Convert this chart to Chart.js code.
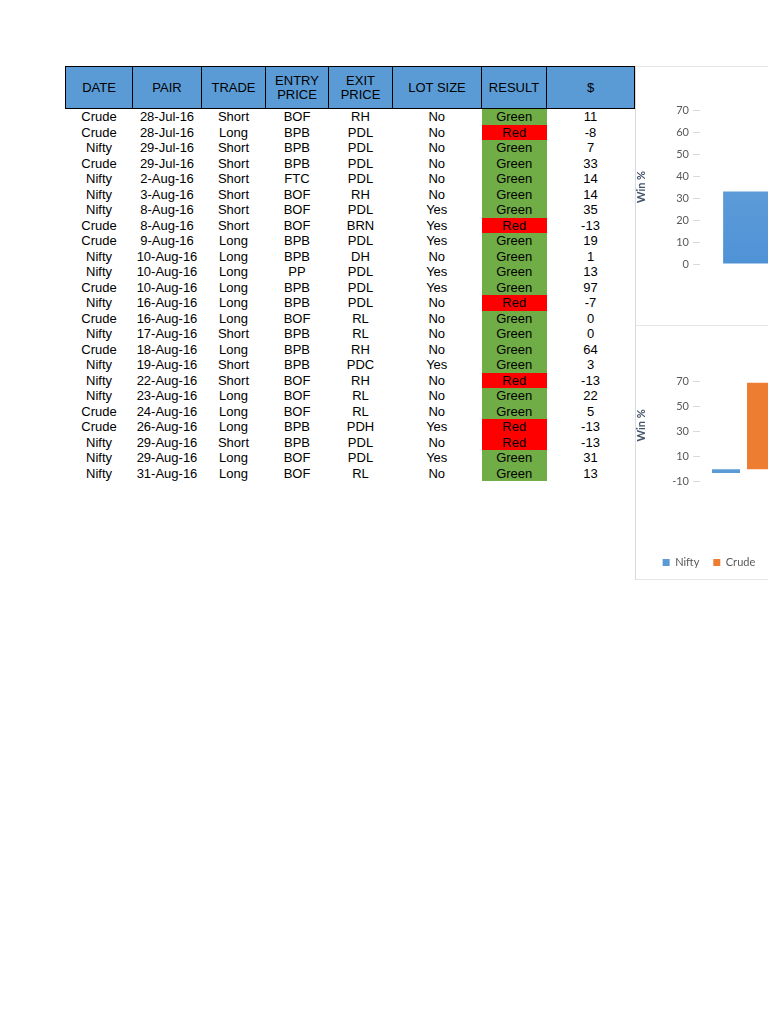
<!DOCTYPE html>
<html><head><meta charset="utf-8">
<script src="https://cdn.jsdelivr.net/npm/chart.js@4"></script>
<style>
html,body{margin:0;padding:0;width:768px;height:1024px;overflow:hidden;background:#fff;font-family:"Liberation Sans",Arial,sans-serif;}
#tbl{position:absolute;left:65px;top:66px;border-collapse:collapse;font-size:13px;}
#tbl th{background:#5b9bd5;border:1px solid #000;font-weight:normal;height:41px;padding:0;line-height:14px;color:#000;}
#tbl td{height:15.5px;padding:0;text-align:center;line-height:15px;}
.g{background:#70ad47;} .r{background:#ff0000;}
.panel{position:absolute;left:635px;width:200px;background:#fff;border-left:1px solid #d9d9d9;border-top:1px solid #e6e6e6;}
.cv{position:absolute;}
</style></head><body>
<table id="tbl"><thead><tr>
<th style="width:66px">DATE</th><th style="width:68px">PAIR</th><th style="width:63px">TRADE</th><th style="width:62px">ENTRY<br>PRICE</th><th style="width:63px">EXIT<br>PRICE</th><th style="width:88px">LOT SIZE</th><th style="width:64px">RESULT</th><th style="width:87px">$</th>
</tr></thead><tbody id="tb"></tbody></table>
<div class="panel" style="top:66px;height:258px;"></div>
<div class="panel" style="top:325px;height:253px;border-bottom:1px solid #e6e6e6;"></div>
<div class="cv" style="left:635px;top:66px;width:250px;height:258px;"><canvas id="c1"></canvas></div>
<div class="cv" style="left:635px;top:325px;width:187px;height:253px;"><canvas id="c2"></canvas></div>
<script>
const pairs=["Crude","Crude","Nifty","Crude","Nifty","Nifty","Nifty","Crude","Crude","Nifty","Nifty","Crude","Nifty","Crude","Nifty","Crude","Nifty","Nifty","Nifty","Crude","Crude","Nifty","Nifty","Nifty"];
const dates=["28-Jul-16","28-Jul-16","29-Jul-16","29-Jul-16","2-Aug-16","3-Aug-16","8-Aug-16","8-Aug-16","9-Aug-16","10-Aug-16","10-Aug-16","10-Aug-16","16-Aug-16","16-Aug-16","17-Aug-16","18-Aug-16","19-Aug-16","22-Aug-16","23-Aug-16","24-Aug-16","26-Aug-16","29-Aug-16","29-Aug-16","31-Aug-16"];
const trades=["Short","Long","Short","Short","Short","Short","Short","Short","Long","Long","Long","Long","Long","Long","Short","Long","Short","Short","Long","Long","Long","Short","Long","Long"];
const entries=["BOF","BPB","BPB","BPB","FTC","BOF","BOF","BOF","BPB","BPB","PP","BPB","BPB","BOF","BPB","BPB","BPB","BOF","BOF","BOF","BPB","BPB","BOF","BOF"];
const exits=["RH","PDL","PDL","PDL","PDL","RH","PDL","BRN","PDL","DH","PDL","PDL","PDL","RL","RL","RH","PDC","RH","RL","RL","PDH","PDL","PDL","RL"];
const lots=["No","No","No","No","No","No","Yes","Yes","Yes","No","Yes","Yes","No","No","No","No","Yes","No","No","No","Yes","No","Yes","No"];
const results=["Green","Red","Green","Green","Green","Green","Green","Red","Green","Green","Green","Green","Red","Green","Green","Green","Green","Red","Green","Green","Red","Red","Green","Green"];
const dollars=[11,-8,7,33,14,14,35,-13,19,1,13,97,-7,0,0,64,3,-13,22,5,-13,-13,31,13];
// charts
const topLabels=["Win %"];
const topValues=[33];
const botLabels=[""];
const botSeries=["Nifty","Crude","All"];
const botValues=[[-3],[69],[null]];
const botColors=["#5b9bd5","#ed7d31","#a5a5a5"];

const tb=document.getElementById('tb');
for(let i=0;i<pairs.length;i++){
  const tr=document.createElement('tr');
  [pairs[i],dates[i],trades[i],entries[i],exits[i],lots[i],results[i],dollars[i]].forEach((v,j)=>{
    const td=document.createElement('td');td.textContent=v;
    if(j===6){td.className=results[i]==='Green'?'g':'r';td.style.borderLeft='1px solid #fff';}
    tr.appendChild(td);});
  tb.appendChild(tr);
}
const tickFont={family:"Lato, 'Liberation Sans', sans-serif",size:11};
function yScale(min,max){return{min:min,max:max,ticks:{stepSize:10,color:'#595959',font:tickFont,padding:4},
  grid:{drawOnChartArea:false,drawTicks:true,tickLength:7,color:'#d9d9d9'},border:{display:false},
  title:{display:true,text:'Win %',color:'#44546a',font:{family:"Lato, sans-serif",size:11,weight:'bold'},padding:0},
  afterFit:s=>{s.width=65;}};}
const grad=(ctx,c1,c2)=>{const a=ctx.chart.chartArea;if(!a)return c1;const g=ctx.chart.ctx.createLinearGradient(0,a.top,0,a.bottom);g.addColorStop(0,c1);g.addColorStop(1,c2);return g;};
new Chart(document.getElementById('c1'),{type:'bar',
  data:{labels:topLabels,datasets:[{data:topValues,backgroundColor:c=>grad(c,'#6fa5db','#4e92d6'),categoryPercentage:1,barPercentage:0.75}]},
  options:{responsive:true,maintainAspectRatio:false,animation:false,layout:{padding:{top:44,bottom:60,left:0,right:0}},
    plugins:{legend:{display:false},tooltip:{enabled:false}},
    scales:{x:{display:false},y:yScale(0,70)}}});
new Chart(document.getElementById('c2'),{type:'bar',
  data:{labels:botLabels,datasets:botSeries.map((n,i)=>({label:n,data:botValues[i],backgroundColor:botColors[i],categoryPercentage:0.86,barPercentage:0.8}))},
  options:{responsive:true,maintainAspectRatio:false,animation:false,layout:{padding:{top:44,bottom:0,left:0,right:0}},
    plugins:{legend:{position:'bottom',labels:{boxWidth:7,boxHeight:7,padding:14,color:'#595959',font:tickFont}},tooltip:{enabled:false}},
    scales:{x:{grid:{display:false},border:{display:false},ticks:{padding:20,font:tickFont}},y:yScale(-10,80)}}});
</script>
</body></html>
